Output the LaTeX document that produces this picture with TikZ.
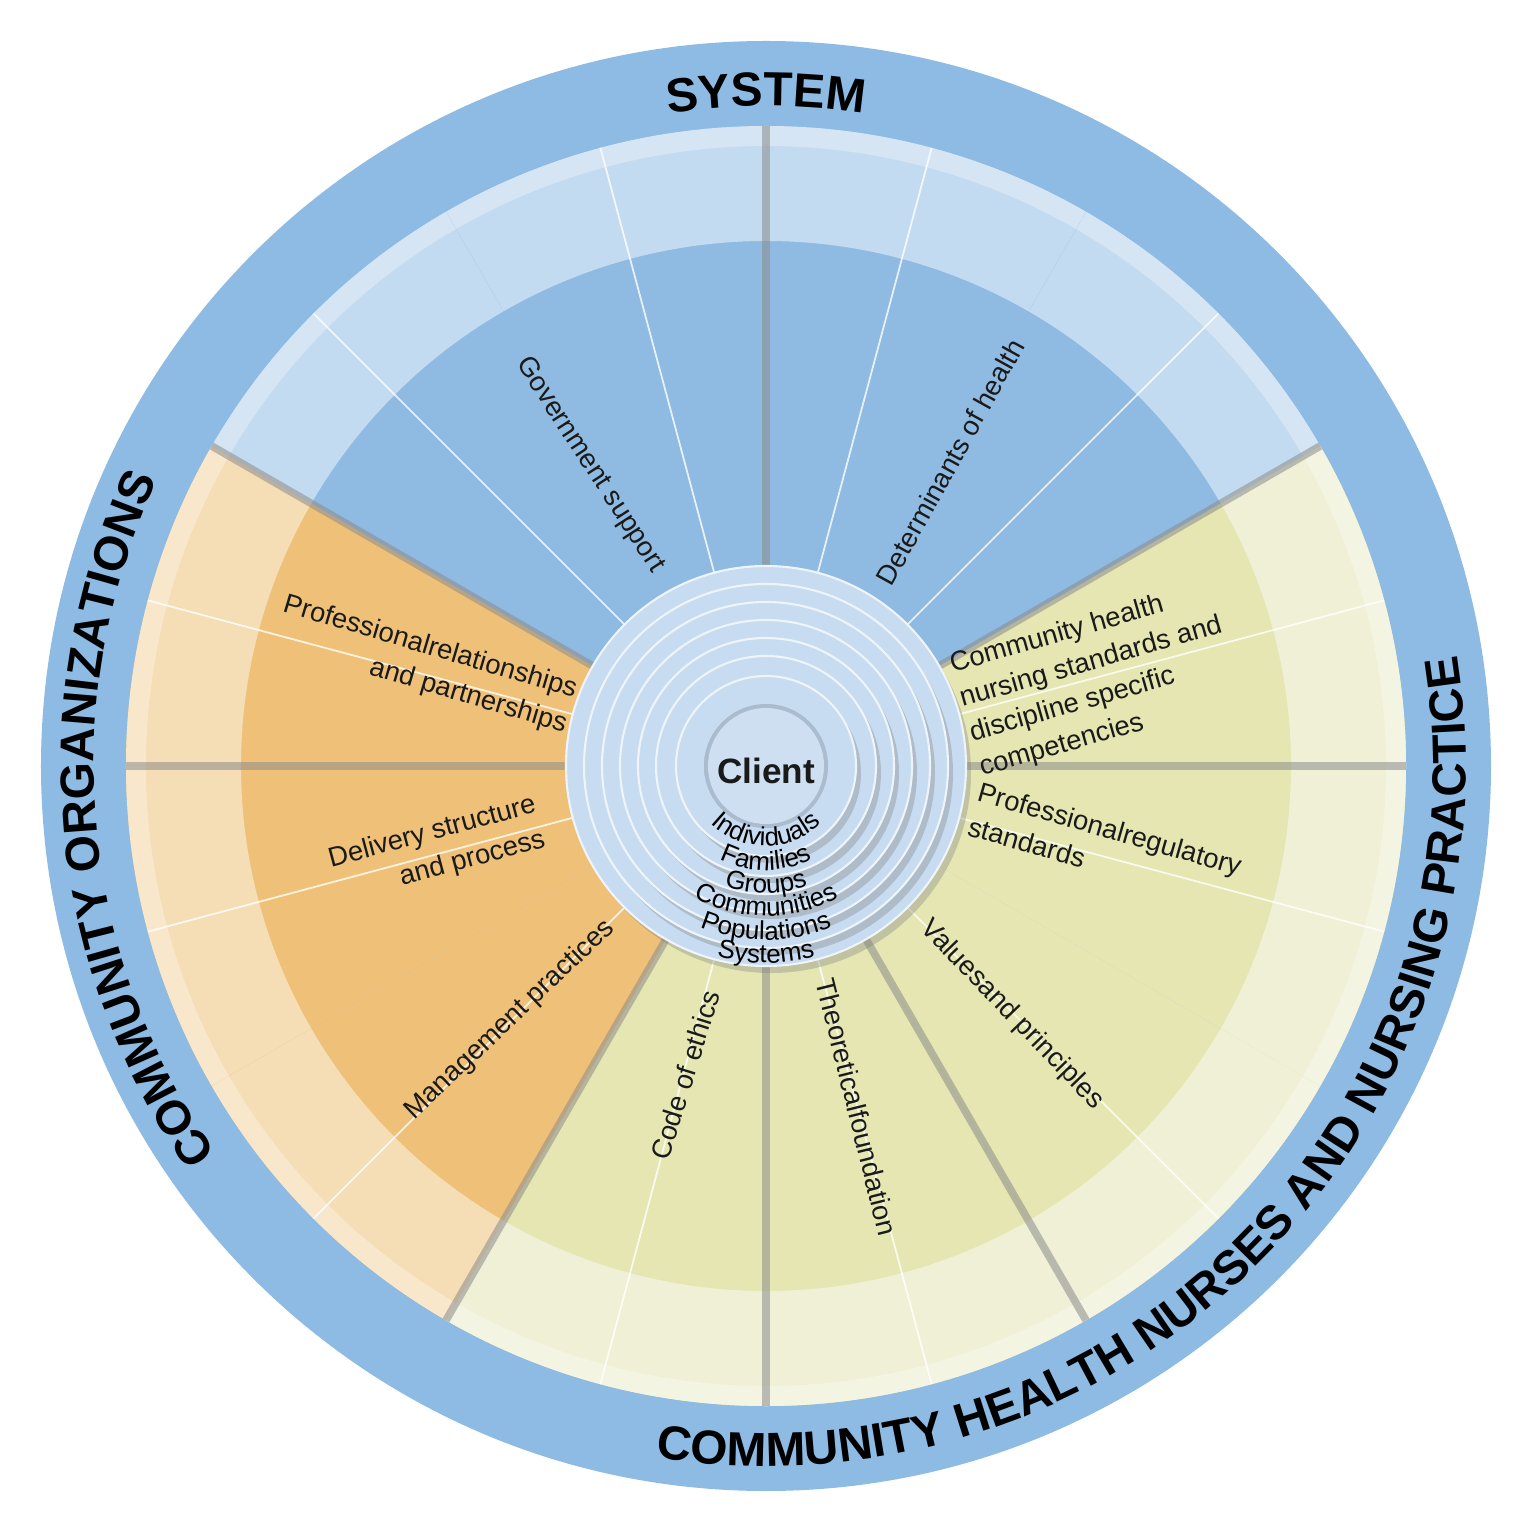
\documentclass[tikz,border=0pt]{standalone}
\usepackage{fontspec}
\setmainfont{Liberation Sans}
\usetikzlibrary{decorations.text,shadows}
\definecolor{ringblue}{HTML}{8DBBE3}
\definecolor{secB}{HTML}{8FBAE1}
\definecolor{bandB}{HTML}{C3DBF0}
\definecolor{secO}{HTML}{EFC178}
\definecolor{bandO}{HTML}{F5DDB5}
\definecolor{secY}{HTML}{E5E6B2}
\definecolor{bandY}{HTML}{EFF0D6}
\definecolor{diskc}{HTML}{C7DCF0}
\definecolor{inkc}{HTML}{1A1A1A}
\newcommand\outfont{\fontsize{13.6}{15}\bfseries\selectfont}
\newcommand\ringfont{\fontsize{7.4}{8}\selectfont}
\tikzset{
 lbl/.style={font=\fontsize{7.8}{10.2}\selectfont, text=inkc, inner sep=0pt},
 majorline/.style={draw=black!45, opacity=0.55, line width=2.2pt},
 minorline/.style={draw=white, opacity=0.8, line width=0.5pt},
 diskring/.style={fill=diskc, draw=white!70!diskc, line width=0.6pt,
   drop shadow={shadow xshift=0.05, shadow yshift=-0.07, opacity=0.35}},
}
\begin{document}
\begin{tikzpicture}
\useasboundingbox (-7.66,-7.70) rectangle (7.67,7.66);
\fill[ringblue] (0,0) circle (7.25);
\foreach \a/\c/\b in {30/secB/bandB,60/secB/bandB,90/secB/bandB,120/secB/bandB,
  150/secO/bandO,180/secO/bandO,210/secO/bandO,
  240/secY/bandY,270/secY/bandY,300/secY/bandY,330/secY/bandY,360/secY/bandY}{
  \fill[\c] (0,0) -- (\a:6.4) arc (\a:\a+30:6.4) -- cycle;
  \fill[\b] (\a:5.25) arc (\a:\a+30:5.25) -- (\a+30:6.4) arc (\a+30:\a:6.4) -- cycle;
  \fill[white, opacity=0.3] (\a:6.2) arc (\a:\a+30:6.2) -- (\a+30:6.4) arc (\a+30:\a:6.4) -- cycle;
  \draw[minorline] (\a+15:2.0) -- (\a+15:6.4);
}
\foreach \a in {0,30,90,150,180,240,270,300}{
  \draw[majorline] (\a:2.0) -- (\a:6.4);
}
\coordinate (c0) at (0,0);
\foreach \r in {2.0,1.82,1.64,1.46,1.28,1.1,0.9}{
  \fill[diskring] (c0) circle (\r);
}
\shade[inner color=diskc!80!black!20!diskc, outer color=diskc!85!black] (c0) circle (0.62);
\fill[diskc!90!white] (c0) circle (0.58);
\node[font=\fontsize{10}{12}\bfseries\selectfont, text=inkc] (client) at (0,-0.05) {Client};
\foreach \r/\t in {0.8/Individuals,1.04/Families,1.27/Groups,1.5/Communities,1.74/Populations,1.97/Systems}{
  \path[decorate, decoration={text along path, text align=center, text={|\ringfont|\t}}]
    (c0) ++(205:\r) arc (205:335:\r);
}
\path[decorate, decoration={text along path, text align=center, text={|\outfont|SYSTEM}}]
  (c0) ++(125:6.6) arc (125:55:6.6);
\path[decorate, decoration={text along path, text align=center, text={|\outfont|COMMUNITY ORGANIZATIONS}}]
  (c0) ++(255:6.72) arc (255:115:6.72);
\path[decorate, decoration={text along path, text align=center, text={|\outfont|COMMUNITY HEALTH NURSES AND NURSING PRACTICE}}]
  (c0) ++(215:7.0) arc (215:415:7.0);
\node[lbl, rotate=-57] (gov) at (-1.76,3.01) {Government support};
\node[lbl, rotate=61] (det) at (1.84,3.04) {Determinants of health};
\node[lbl, rotate=16, align=left] (chn) at (3.3,0.86) {Community health\\nursing standards and\\discipline specific\\competencies};
\node[lbl, rotate=-16, align=left] (reg) at (3.39,-0.8) {Professionalregulatory\\standards};
\node[lbl, rotate=-46] (val) at (2.46,-2.49) {Valuesand principles};
\node[lbl, rotate=-76] (theo) at (0.91,-3.41) {Theoreticalfoundation};
\node[lbl, rotate=72.6] (code) at (-0.81,-3.09) {Code of ethics};
\node[lbl, rotate=43.5] (man) at (-2.56,-2.54) {Management practices};
\node[lbl, rotate=15, align=right] (del) at (-3.29,-0.84) {Delivery structure\\and process};
\node[lbl, rotate=-16.5, align=right] (rel) at (-3.41,1.01) {Professionalrelationships\\and partnerships};
\end{tikzpicture}
\end{document}
